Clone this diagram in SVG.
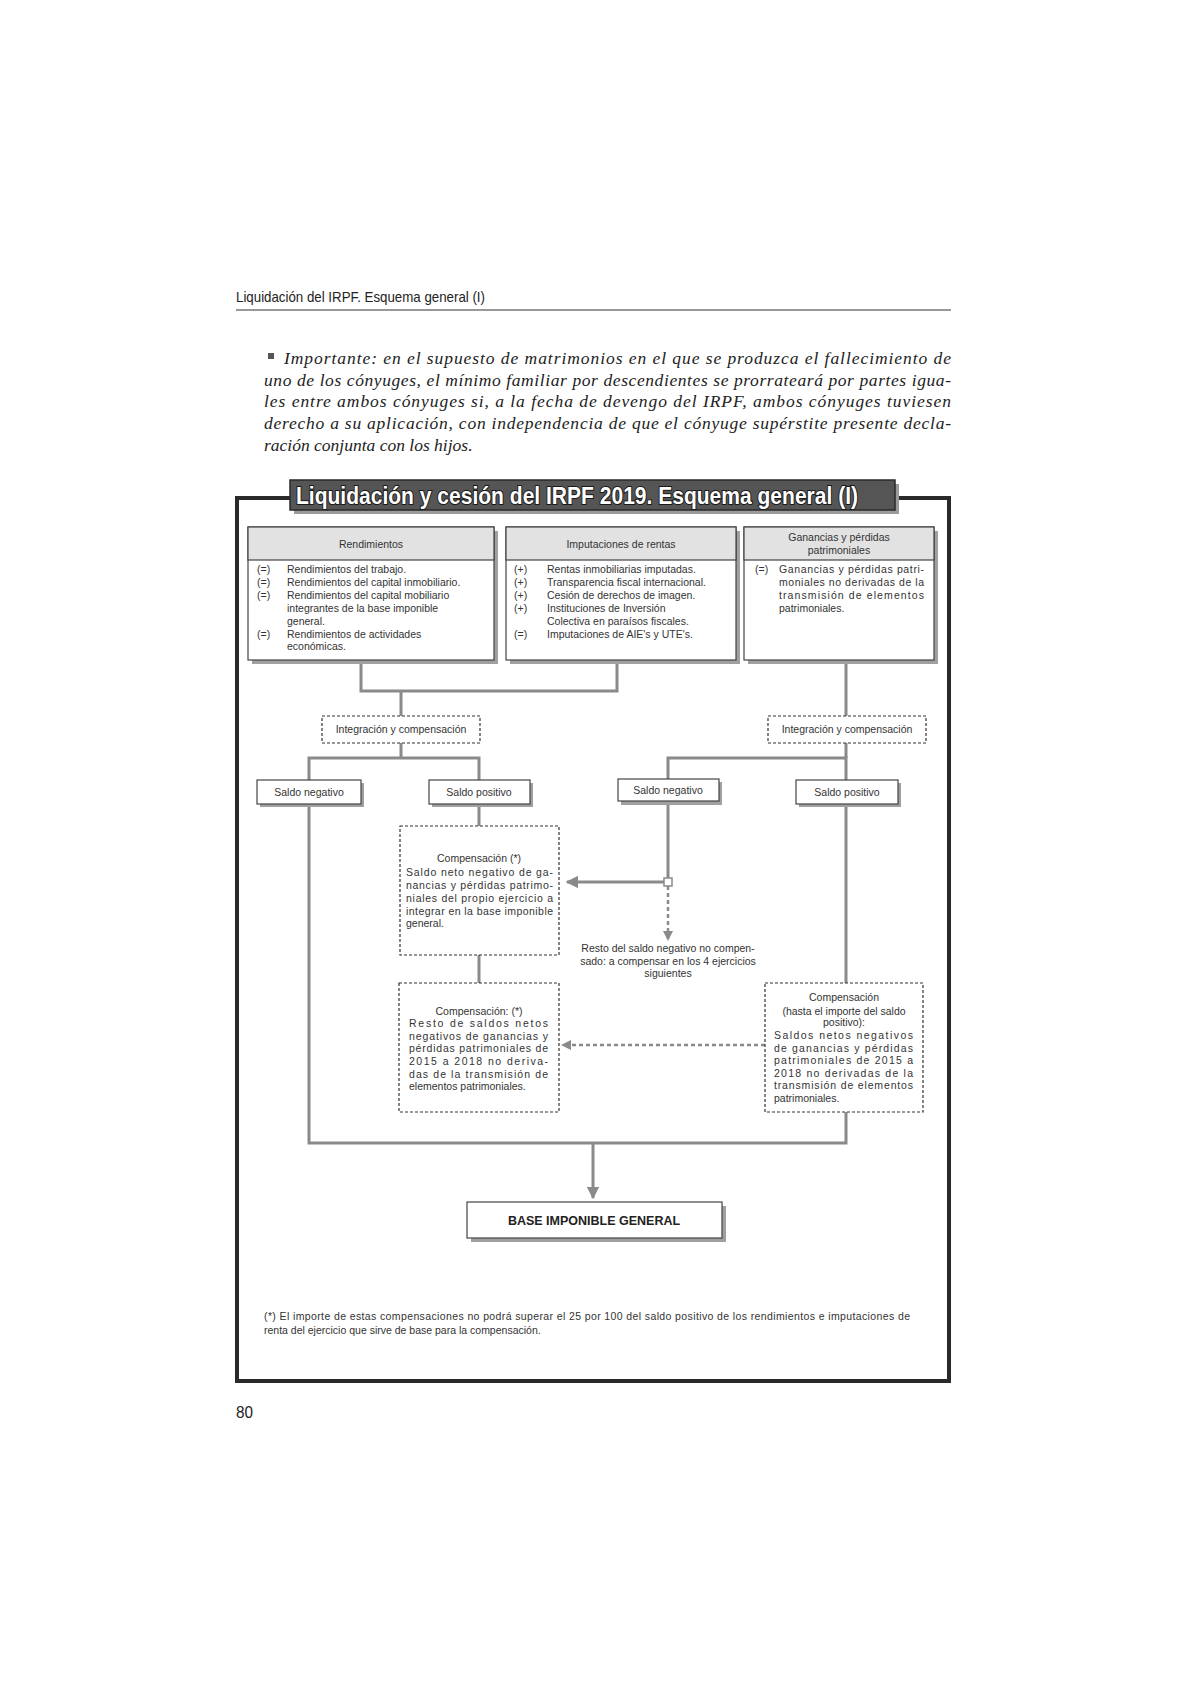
<svg xmlns="http://www.w3.org/2000/svg" width="1200" height="1698" viewBox="0 0 1200 1698">
<style>
.sans{font-family:"Liberation Sans",Arial,sans-serif;fill:#222}
.s{font-family:"Liberation Sans",Arial,sans-serif;font-size:10.5px;fill:#333}
.c{text-anchor:middle}
.box{fill:#fff;stroke:#444;stroke-width:1.2}
.hdr{fill:#e2e2e2;stroke:#444;stroke-width:1.2}
.shadow{fill:#a0a0a0}
.dash{fill:#fff;stroke:#333;stroke-width:1.2;stroke-dasharray:3,2}
.con{fill:none;stroke:#8a8a8a;stroke-width:3}
.cond{fill:none;stroke:#8a8a8a;stroke-width:2.5;stroke-dasharray:4,3}
.para{font-family:"Liberation Serif","Times New Roman",serif;font-style:italic;font-size:17.5px;fill:#222}
</style>
<defs>
<marker id="ah" viewBox="0 0 10 10" refX="9" refY="5" markerWidth="4.2" markerHeight="4.2" orient="auto" markerUnits="strokeWidth">
<path d="M0,0 L10,5 L0,10 z" fill="#8a8a8a"/>
</marker>
</defs>
<rect width="1200" height="1698" fill="#fff"/>

<g id="page-header">
<text class="sans" x="236" y="302" font-size="15" textLength="249" lengthAdjust="spacingAndGlyphs">Liquidación del IRPF. Esquema general (I)</text>
<line x1="236" y1="310" x2="951" y2="310" stroke="#333" stroke-width="1.2"/>
</g>

<g id="paragraph">
<rect x="268" y="353" width="6" height="6" fill="#555"/>
<text class="para" x="284" y="364" textLength="667" lengthAdjust="spacing">Importante: en el supuesto de matrimonios en el que se produzca el fallecimiento de</text>
<text class="para" x="264" y="386" textLength="687" lengthAdjust="spacing">uno de los cónyuges, el mínimo familiar por descendientes se prorrateará por partes igua-</text>
<text class="para" x="264" y="407" textLength="687" lengthAdjust="spacing">les entre ambos cónyuges si, a la fecha de devengo del IRPF, ambos cónyuges tuviesen</text>
<text class="para" x="264" y="429" textLength="687" lengthAdjust="spacing">derecho a su aplicación, con independencia de que el cónyuge supérstite presente decla-</text>
<text class="para" x="264" y="451">ración conjunta con los hijos.</text>
</g>

<g id="frame">
<rect x="237" y="498" width="712" height="883" fill="none" stroke="#2a2a2a" stroke-width="4"/>
<rect x="294" y="484" width="605" height="30" fill="#9a9a9a"/>
<rect x="290" y="480" width="605" height="30" fill="#555" stroke="#2a2a2a" stroke-width="1.5"/>
<text x="296" y="504" font-family="'Liberation Sans',Arial,sans-serif" font-weight="bold" font-size="23" fill="#fff" stroke="#1a1a1a" stroke-width="2" paint-order="stroke" textLength="562" lengthAdjust="spacingAndGlyphs">Liquidación y cesión del IRPF 2019. Esquema general (I)</text>
</g>

<g id="connectors">
<polyline class="con" points="361,660 361,691 617,691 617,660"/>
<line class="con" x1="401" y1="691" x2="401" y2="716"/>
<line class="con" x1="846" y1="660" x2="846" y2="716"/>
<polyline class="con" points="309,780 309,758 479,758 479,780"/>
<line class="con" x1="401" y1="743" x2="401" y2="758"/>
<polyline class="con" points="668,779 668,758 846,758 846,780"/>
<line class="con" x1="846" y1="743" x2="846" y2="758"/>
<polyline class="con" points="309,804 309,1143 846,1143 846,1112"/>
<line class="con" x1="846" y1="804" x2="846" y2="983"/>
<line class="con" x1="593" y1="1143" x2="593" y2="1198" marker-end="url(#ah)"/>
<line class="con" x1="479" y1="804" x2="479" y2="826"/>
<line class="con" x1="479" y1="955" x2="479" y2="983"/>
<line class="con" x1="668" y1="801" x2="668" y2="878"/>
<line class="con" x1="664" y1="882" x2="567" y2="882" marker-end="url(#ah)"/>
<line class="cond" x1="668" y1="886" x2="668" y2="940" marker-end="url(#ah)"/>
<line class="cond" x1="765" y1="1045" x2="562" y2="1045" marker-end="url(#ah)"/>
<rect x="664" y="878" width="8" height="8" fill="#fff" stroke="#8a8a8a" stroke-width="1.5"/>
</g>

<g id="rendimientos">
<rect class="shadow" x="252" y="531" width="246" height="133"/>
<rect class="box" x="248" y="527" width="246" height="133"/>
<rect class="hdr" x="248" y="527" width="246" height="33"/>
<text class="s c" x="371" y="548">Rendimientos</text>
<text class="s" x="257" y="573">(=)</text><text class="s" x="287" y="573">Rendimientos del trabajo.</text>
<text class="s" x="257" y="586">(=)</text><text class="s" x="287" y="586">Rendimientos del capital inmobiliario.</text>
<text class="s" x="257" y="599">(=)</text><text class="s" x="287" y="599">Rendimientos del capital mobiliario</text>
<text class="s" x="287" y="612">integrantes de la base imponible</text>
<text class="s" x="287" y="625">general.</text>
<text class="s" x="257" y="638">(=)</text><text class="s" x="287" y="638">Rendimientos de actividades</text>
<text class="s" x="287" y="650">económicas.</text>
</g>

<g id="imputaciones">
<rect class="shadow" x="510" y="531" width="230" height="133"/>
<rect class="box" x="506" y="527" width="230" height="133"/>
<rect class="hdr" x="506" y="527" width="230" height="33"/>
<text class="s c" x="621" y="548">Imputaciones de rentas</text>
<text class="s" x="514" y="573">(+)</text><text class="s" x="547" y="573">Rentas inmobiliarias imputadas.</text>
<text class="s" x="514" y="586">(+)</text><text class="s" x="547" y="586">Transparencia fiscal internacional.</text>
<text class="s" x="514" y="599">(+)</text><text class="s" x="547" y="599">Cesión de derechos de imagen.</text>
<text class="s" x="514" y="612">(+)</text><text class="s" x="547" y="612">Instituciones de Inversión</text>
<text class="s" x="547" y="625">Colectiva en paraísos fiscales.</text>
<text class="s" x="514" y="638">(=)</text><text class="s" x="547" y="638">Imputaciones de AIE's y UTE's.</text>
</g>

<g id="ganancias">
<rect class="shadow" x="748" y="531" width="190" height="133"/>
<rect class="box" x="744" y="527" width="190" height="133"/>
<rect class="hdr" x="744" y="527" width="190" height="33"/>
<text class="s c" x="839" y="541">Ganancias y pérdidas</text>
<text class="s c" x="839" y="554">patrimoniales</text>
<text class="s" x="755" y="573">(=)</text><text class="s" x="779" y="573" textLength="145" lengthAdjust="spacing">Ganancias y pérdidas patri-</text>
<text class="s" x="779" y="586" textLength="145" lengthAdjust="spacing">moniales no derivadas de la</text>
<text class="s" x="779" y="599" textLength="145" lengthAdjust="spacing">transmisión de elementos</text>
<text class="s" x="779" y="612">patrimoniales.</text>
</g>

<g id="integracion-izq">
<rect class="dash" x="322" y="716" width="158" height="27"/>
<text class="s c" x="401" y="733">Integración y compensación</text>
</g>
<g id="integracion-der">
<rect class="dash" x="768" y="716" width="158" height="27"/>
<text class="s c" x="847" y="733">Integración y compensación</text>
</g>

<g id="saldo-neg-izq">
<rect class="shadow" x="260" y="783" width="104" height="24"/>
<rect class="box" x="257" y="780" width="104" height="24"/>
<text class="s c" x="309" y="796">Saldo negativo</text>
</g>
<g id="saldo-pos-izq">
<rect class="shadow" x="432" y="783" width="101" height="24"/>
<rect class="box" x="429" y="780" width="101" height="24"/>
<text class="s c" x="479" y="796">Saldo positivo</text>
</g>
<g id="saldo-neg-der">
<rect class="shadow" x="621" y="782" width="101" height="23"/>
<rect class="box" x="618" y="779" width="101" height="22"/>
<text class="s c" x="668" y="794">Saldo negativo</text>
</g>
<g id="saldo-pos-der">
<rect class="shadow" x="799" y="783" width="102" height="24"/>
<rect class="box" x="796" y="780" width="102" height="24"/>
<text class="s c" x="847" y="796">Saldo positivo</text>
</g>

<g id="compensacion-1">
<rect class="dash" x="400" y="826" width="159" height="129"/>
<text class="s c" x="479" y="862">Compensación (*)</text>
<text class="s" x="406" y="876" textLength="147" lengthAdjust="spacing">Saldo neto negativo de ga-</text>
<text class="s" x="406" y="889" textLength="147" lengthAdjust="spacing">nancias y pérdidas patrimo-</text>
<text class="s" x="406" y="902" textLength="147" lengthAdjust="spacing">niales del propio ejercicio a</text>
<text class="s" x="406" y="915" textLength="147" lengthAdjust="spacing">integrar en la base imponible</text>
<text class="s" x="406" y="927">general.</text>
</g>

<g id="resto-label">
<text class="s c" x="668" y="952">Resto del saldo negativo no compen-</text>
<text class="s c" x="668" y="965">sado: a compensar en los 4 ejercicios</text>
<text class="s c" x="668" y="977">siguientes</text>
</g>

<g id="compensacion-2">
<rect class="dash" x="399" y="983" width="160" height="129"/>
<text class="s c" x="479" y="1015">Compensación: (*)</text>
<text class="s" x="409" y="1027" textLength="139" lengthAdjust="spacing">Resto de saldos netos</text>
<text class="s" x="409" y="1040" textLength="139" lengthAdjust="spacing">negativos de ganancias y</text>
<text class="s" x="409" y="1052" textLength="139" lengthAdjust="spacing">pérdidas patrimoniales de</text>
<text class="s" x="409" y="1065" textLength="139" lengthAdjust="spacing">2015 a 2018 no deriva-</text>
<text class="s" x="409" y="1078" textLength="139" lengthAdjust="spacing">das de la transmisión de</text>
<text class="s" x="409" y="1090">elementos patrimoniales.</text>
</g>

<g id="compensacion-3">
<rect class="dash" x="765" y="983" width="158" height="129"/>
<text class="s c" x="844" y="1001">Compensación</text>
<text class="s c" x="844" y="1015">(hasta el importe del saldo</text>
<text class="s c" x="844" y="1026">positivo):</text>
<text class="s" x="774" y="1039" textLength="139" lengthAdjust="spacing">Saldos netos negativos</text>
<text class="s" x="774" y="1052" textLength="139" lengthAdjust="spacing">de ganancias y pérdidas</text>
<text class="s" x="774" y="1064" textLength="139" lengthAdjust="spacing">patrimoniales de 2015 a</text>
<text class="s" x="774" y="1077" textLength="139" lengthAdjust="spacing">2018 no derivadas de la</text>
<text class="s" x="774" y="1089" textLength="139" lengthAdjust="spacing">transmisión de elementos</text>
<text class="s" x="774" y="1102">patrimoniales.</text>
</g>

<g id="base-imponible">
<rect class="shadow" x="471" y="1206" width="255" height="36"/>
<rect class="box" x="467" y="1202" width="255" height="36"/>
<text class="sans c" x="594" y="1225" font-size="12.5" font-weight="bold" fill="#333">BASE IMPONIBLE GENERAL</text>
</g>

<g id="footnote">
<text class="s" x="264" y="1320" textLength="646" lengthAdjust="spacing">(*) El importe de estas compensaciones no podrá superar el 25 por 100 del saldo positivo de los rendimientos e imputaciones de</text>
<text class="s" x="264" y="1334">renta del ejercicio que sirve de base para la compensación.</text>
</g>

<g id="page-number">
<text class="sans" x="236" y="1418" font-size="16" textLength="17" lengthAdjust="spacingAndGlyphs">80</text>
</g>
</svg>
